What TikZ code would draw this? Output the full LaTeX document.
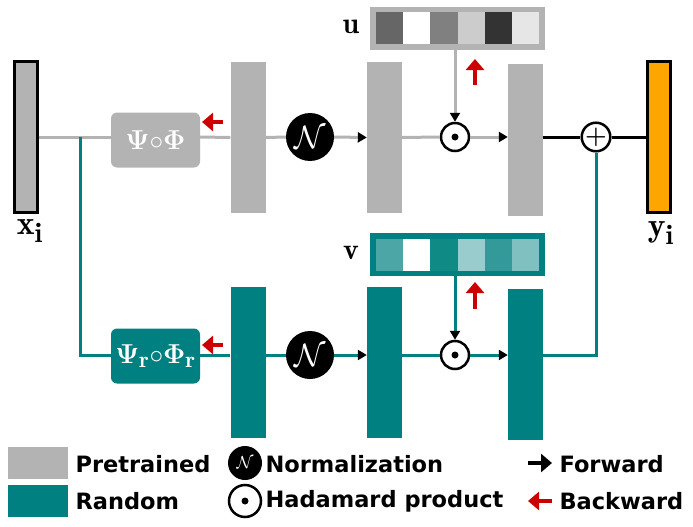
\documentclass[tikz,border=0pt]{standalone}
\usepackage{amsmath}
\usepackage{fontspec}
\newfontfamily\legfont{DejaVu Sans}
\usetikzlibrary{arrows.meta,calc}
\definecolor{tl}{HTML}{008080}
\definecolor{gr}{HTML}{B3B3B3}
\definecolor{rd}{HTML}{CC0000}
\definecolor{og}{HTML}{FFA500}
\newcommand{\bmx}[2]{\scalebox{#1}{\Huge$#2$}}
\tikzset{
 bar/.style={draw=none,minimum width=35pt,minimum height=151pt,inner sep=0},
 io/.style={draw=black,line width=3pt,minimum width=23pt,minimum height=150pt,inner sep=0},
 fn/.style={rounded corners=6pt,minimum width=89pt,minimum height=55pt,text=white},
 nrm/.style={circle,fill=black,text=white,minimum size=48pt,inner sep=0},
 had/.style={circle,draw=black,line width=2.5pt,fill=white,minimum size=28pt,inner sep=0},
 fw/.style={-{Triangle[length=9pt,width=10pt,black]}},
 bw/.style={draw=rd,line width=4.5pt,-{Triangle[length=11pt,width=18pt]}},
 gl/.style={draw=gr,line width=3pt},
 tln/.style={draw=tl,line width=3pt},
 lab/.style={inner sep=0},
 leg/.style={font=\legfont\bfseries\fontsize{22.5}{24}\selectfont,anchor=west},
 cell/.style={minimum width=27.2pt,minimum height=32pt,inner sep=0,draw=none},
}
\begin{document}
\begin{tikzpicture}[x=1pt,y=-1pt]
\useasboundingbox (0,0) rectangle (693,527);
% top row
\node[io,fill=gr] (x) at (25.5,137) {};
\node[lab] (xl) at (30,231) {\bmx{1.35}{\mathbf{x}_\mathbf{i}}};
\node[fn,fill=gr] (f1) at (155.5,140) {\bmx{1.1}{\boldsymbol{\Psi}{\circ}\boldsymbol{\Phi}}};
\node[bar,fill=gr] (a1) at (248,137.5) {};
\node[nrm] (n1) at (310,137) {\bmx{1.3}{\mathcal{N}}};
\node[bar,fill=gr] (b1) at (384.5,137.5) {};
\node[had] (h1) at (455,137) {};
\node[bar,fill=gr] (c1) at (525.5,140) {};
\node[circle,draw=black,line width=2.5pt,fill=white,minimum size=28pt,inner sep=0] (p1) at (596,137) {\bmx{1}{\boldsymbol{+}}};
\node[io,fill=og] (y) at (659,137) {};
\node[lab] (yl) at (661,233) {\bmx{1.35}{\mathbf{y}_\mathbf{i}}};
\node[fill=gr,minimum width=175pt,minimum height=43pt,inner sep=0] (u) at (457.5,28.5) {};
\node[lab] (ul) at (351,27) {\bmx{1.2}{\mathbf{u}}};
\foreach \c [count=\i] in {666666,FFFFFF,808080,CCCCCC,333333,E6E6E6}{
 \definecolor{cc}{HTML}{\c}
 \node[cell,fill=cc] (u\i) at ({376+27.2*(\i-0.5)},28.5) {};}
% bottom row
\node[fn,fill=tl] (f2) at (155.5,356) {\bmx{1.1}{\boldsymbol{\Psi}_\mathbf{r}{\circ}\boldsymbol{\Phi}_\mathbf{r}}};
\node[bar,fill=tl] (a2) at (248,362.5) {};
\node[nrm] (n2) at (310,355) {\bmx{1.3}{\mathcal{N}}};
\node[bar,fill=tl] (b2) at (384.5,362.5) {};
\node[had] (h2) at (455,355) {};
\node[bar,fill=tl] (c2) at (525.5,364) {};
\node[fill=tl,minimum width=175pt,minimum height=43pt,inner sep=0] (v) at (457.5,254.5) {};
\node[lab] (vl) at (351,253) {\bmx{1.2}{\mathbf{v}}};
\foreach \c [count=\i] in {4DA6A6,FFFFFF,0F8A85,99CCCC,339999,80C0C0}{
 \definecolor{cc}{HTML}{\c}
 \node[cell,fill=cc] (v\i) at ({376+27.2*(\i-0.5)},254.5) {};}
\coordinate (br) at (80,137);
\coordinate (bb) at (80,355);
\coordinate (rb) at (596,355);
% connectors top
\draw[gl] (x.east) -- (f1.west |- x.east);
\draw[gl] (f1.east |- x.east) -- (a1.west);
\draw[gl] (a1.east) -- (n1.west);
\draw[gl,fw] (n1.east) -- (b1.west);
\draw[gl] (b1.east) -- (h1.west);
\draw[gl,fw] (h1.east) -- (c1.west |- h1);
\draw[gl,fw] (u.south -| h1) -- (h1.north);
\draw[line width=3pt] (c1.east |- h1) -- (p1.west);
\draw[line width=3pt] (p1.east) -- (y.west);
% connectors bottom
\draw[tln] (br) -- (bb) -- (f2.west |- bb);
\draw[tln] (f2.east |- bb) -- (a2.west |- bb);
\draw[tln] (a2.east |- bb) -- (n2.west);
\draw[tln,fw] (n2.east) -- (b2.west |- bb);
\draw[tln] (b2.east |- bb) -- (h2.west);
\draw[tln,fw] (h2.east) -- (c2.west |- bb);
\draw[tln,fw] (v.south -| h2) -- (h2.north);
\draw[tln] (c2.east |- bb) -- (rb) -- (p1.south);
\fill (h1) circle (3.5pt);
\fill (h2) circle (3.5pt);
% backward arrows
\coordinate (r1a) at (223,122); \coordinate (r1b) at (202,122);
\draw[bw] (r1a) -- (r1b);
\coordinate (r2a) at (223,345); \coordinate (r2b) at (202,345);
\draw[bw] (r2a) -- (r2b);
\coordinate (r3a) at (475,85); \coordinate (r3b) at (475,59);
\draw[bw] (r3a) -- (r3b);
\coordinate (r4a) at (475,309); \coordinate (r4b) at (475,282);
\draw[bw] (r4a) -- (r4b);
% legend
\node[fill=gr,minimum width=60pt,minimum height=32pt,inner sep=0] (lg) at (38,463) {};
\node[fill=tl,minimum width=60pt,minimum height=32pt,inner sep=0] (lt) at (38,501) {};
\node[leg] (lgt) at (72,464) {Pretrained};
\node[leg] (ltt) at (72,501) {Random};
\node[circle,fill=black,text=white,minimum size=34pt,inner sep=0] (ln) at (245,463) {\bmx{0.7}{\mathcal{N}}};
\node[circle,draw=black,line width=2.5pt,minimum size=32pt,inner sep=0] (lh) at (245,501) {};
\fill (lh) circle (3.5pt);
\node[leg] (lnt) at (262,464) {Normalization};
\node[leg] (lht) at (262,501) {Hadamard product};
\coordinate (lf1) at (528,463); \coordinate (lf2) at (552,463);
\draw[line width=4.5pt,-{Triangle[length=11pt,width=18pt]}] (lf1) -- (lf2);
\coordinate (lb1) at (552,501); \coordinate (lb2) at (528,501);
\draw[bw] (lb1) -- (lb2);
\node[leg] (lft) at (556,464) {Forward};
\node[leg] (lbt) at (556,501) {Backward};
\end{tikzpicture}
\end{document}
